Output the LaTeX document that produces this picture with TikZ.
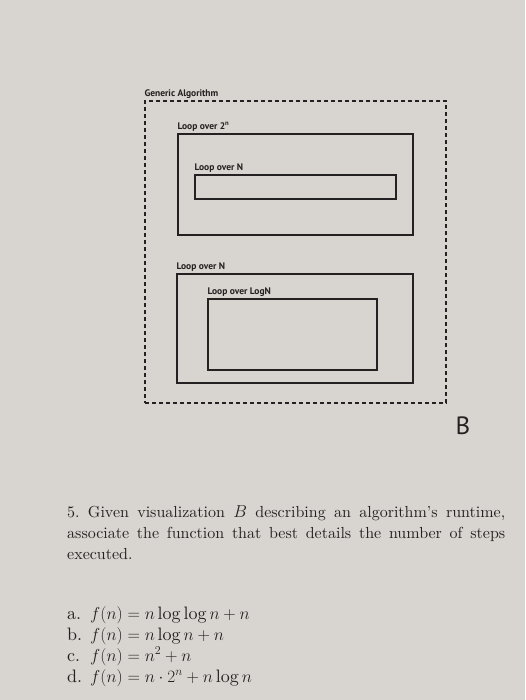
\documentclass[tikz,border=0pt]{standalone}
\usepackage{amsmath}
\usepackage{fontspec}
\setmainfont{lmroman10-regular.otf}[ItalicFont=lmroman10-italic.otf, BoldFont=lmroman10-bold.otf]
\newfontfamily\labelfont{PT Sans}
\usetikzlibrary{positioning}

\definecolor{paper}{RGB}{216,212,207}
\definecolor{ink}{RGB}{35,33,33}

\begin{document}
\begin{tikzpicture}[x=1pt,y=-1pt,
  loopbox/.style={draw=ink, line width=1.3pt, inner sep=0pt},
  outerbox/.style={draw=ink, line width=1.4pt, dash pattern=on 4pt off 3pt, inner sep=0pt},
  looplabel/.style={inner sep=0pt, text=ink, font=\labelfont\bfseries\fontsize{9.5}{11}\selectfont},
  bodytext/.style={inner sep=0pt, text=ink, font=\fontsize{16}{21}\selectfont\frenchspacing}]
% paper
\fill[paper] (0,0) rectangle (525,700);

% the algorithm
\node[outerbox, minimum width=301pt, minimum height=302pt] (generic) at (295.5,252) {};
\node[looplabel, above right=2pt and 0pt of generic.north west] (genericlbl) {Generic Algorithm};

\node[loopbox, minimum width=235pt, minimum height=101pt] (loopexp) at (295.5,184.5) {};
\node[looplabel, above right=2pt and 0pt of loopexp.north west] (loopexplbl) {Loop over 2\textsuperscript{n}};
\node[loopbox, minimum width=201pt, minimum height=24pt] (loopn) at (295.5,187) {};
\node[looplabel, above right=2pt and 0pt of loopn.north west] (loopnlbl) {Loop over N};

\node[loopbox, minimum width=236pt, minimum height=109pt] (loopouter) at (295,328.5) {};
\node[looplabel, above right=2pt and 0pt of loopouter.north west] (loopouterlbl) {Loop over N};
\node[loopbox, minimum width=169pt, minimum height=71pt] (looplog) at (292.5,334.5) {};
\node[looplabel, above right=2pt and 0pt of looplog.north west] (looploglbl) {Loop over LogN};

\node[inner sep=0pt, text=ink, font=\labelfont\fontsize{25}{25}\selectfont] (tag) at (463,426) {B};

% the question
\node[bodytext, text width=438pt, align=justify, anchor=north west] (question) at (67,505)
  {5. Given visualization $B$ describing an algorithm's runtime,\linebreak
   associate the function that best details the number of steps\linebreak
   executed.};
\node[bodytext, font=\fontsize{18}{21}\selectfont, align=left, anchor=north west] (choices) at (67,606)
  {\makebox[23pt][l]{a.}$f(n) = n\log\log n + n$\\
   \makebox[23pt][l]{b.}$f(n) = n\log n + n$\\
   \makebox[23pt][l]{c.}$f(n) = n^2 + n$\\
   \makebox[23pt][l]{d.}$f(n) = n\cdot 2^n + n\log n$};
\end{tikzpicture}
\end{document}
